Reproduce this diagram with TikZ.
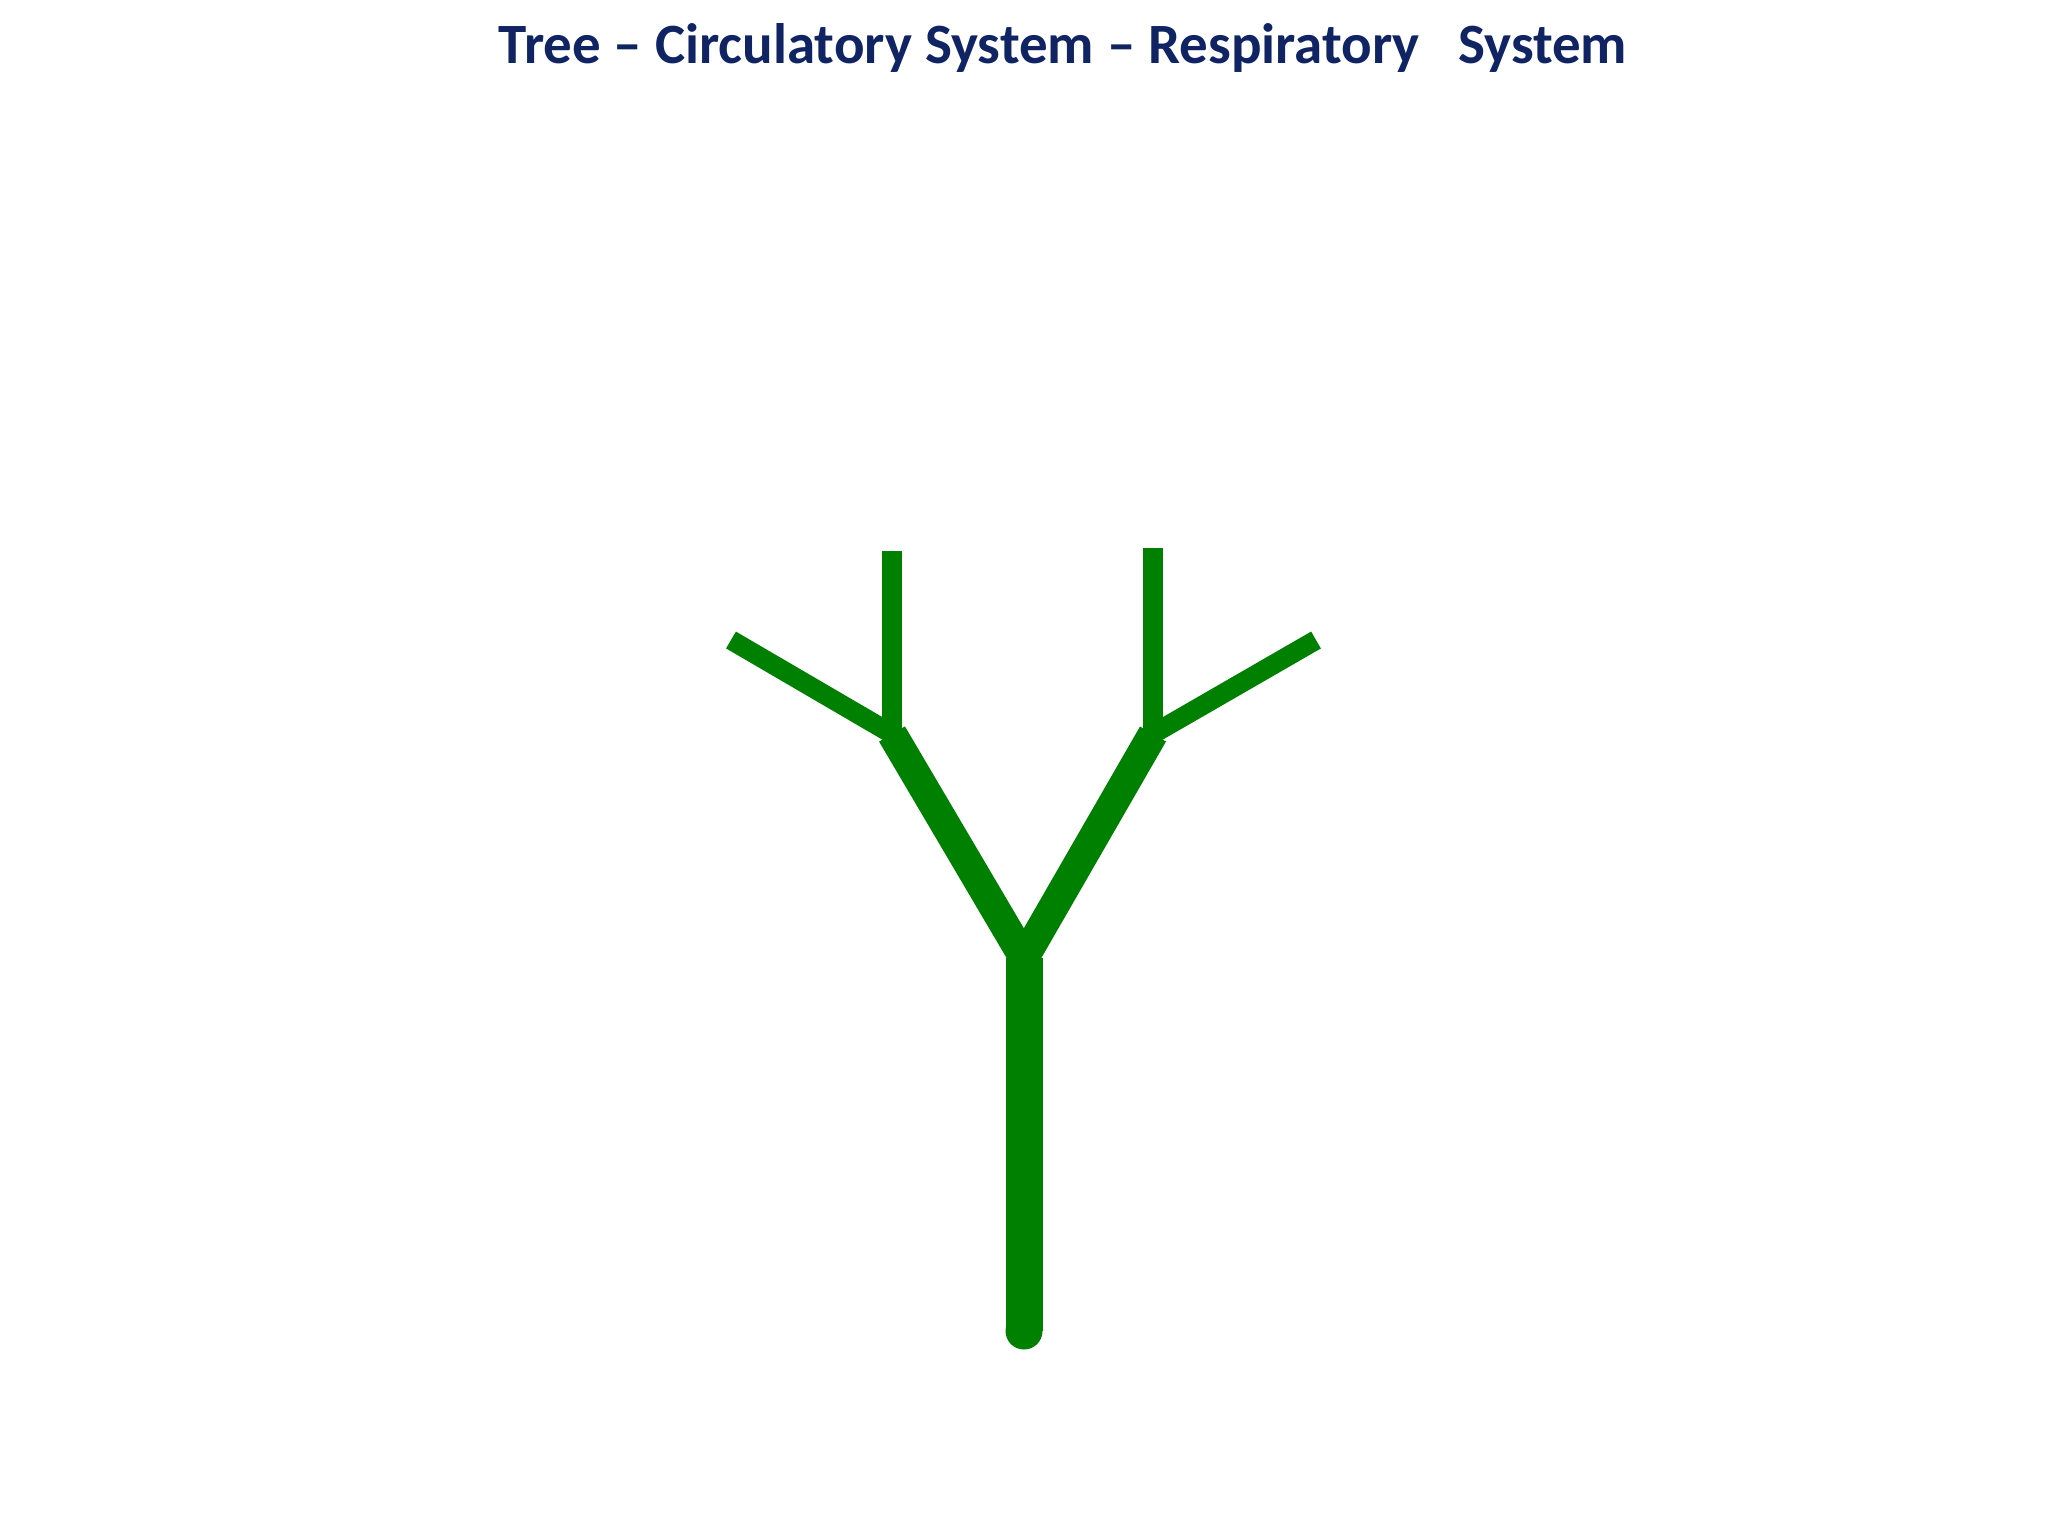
\documentclass[tikz,border=0pt]{standalone}
\usepackage{fontspec}
\setmainfont{Carlito}
\usepackage{tikz}
\usetikzlibrary{positioning}
\definecolor{treegreen}{RGB}{0,128,0}
\definecolor{titleblue}{RGB}{16,36,100}
\tikzset{trunk/.style={draw=treegreen, line width=18.5pt}}
\tikzset{limb/.style={draw=treegreen, line width=15pt}}
\tikzset{twig/.style={draw=treegreen, line width=9.75pt}}
\tikzstyle{heading}=[text=titleblue, font=\bfseries\fontsize{28.5}{32}\selectfont, inner sep=0pt]

\begin{document}
\begin{tikzpicture}[x=0.5pt, y=-0.5pt]
\useasboundingbox (0,0) rectangle (2048,1536);
\node[heading] (title) at (1063,48) {Tree -- Circulatory System -- Respiratory\ \ \ System};
\coordinate (root) at (1024,1331);
\coordinate (fork) at (1024,958);
\coordinate (LJ) at (892,734);
\coordinate (RJ) at (1153,734);
\coordinate (LT) at (892,551);
\coordinate (RT) at (1153,548);
\coordinate (LS) at (731,640);
\coordinate (RS) at (1316,640);

\path[trunk] (root) edge (fork);
\fill[treegreen] (root) circle[radius=18.5];
\path[limb] (fork) edge (LJ)
	edge (RJ);
\path[twig] (LJ) edge (LT)
	edge (LS)
(RJ) edge (RT)
	edge (RS)
;
\end{tikzpicture}
\end{document}
